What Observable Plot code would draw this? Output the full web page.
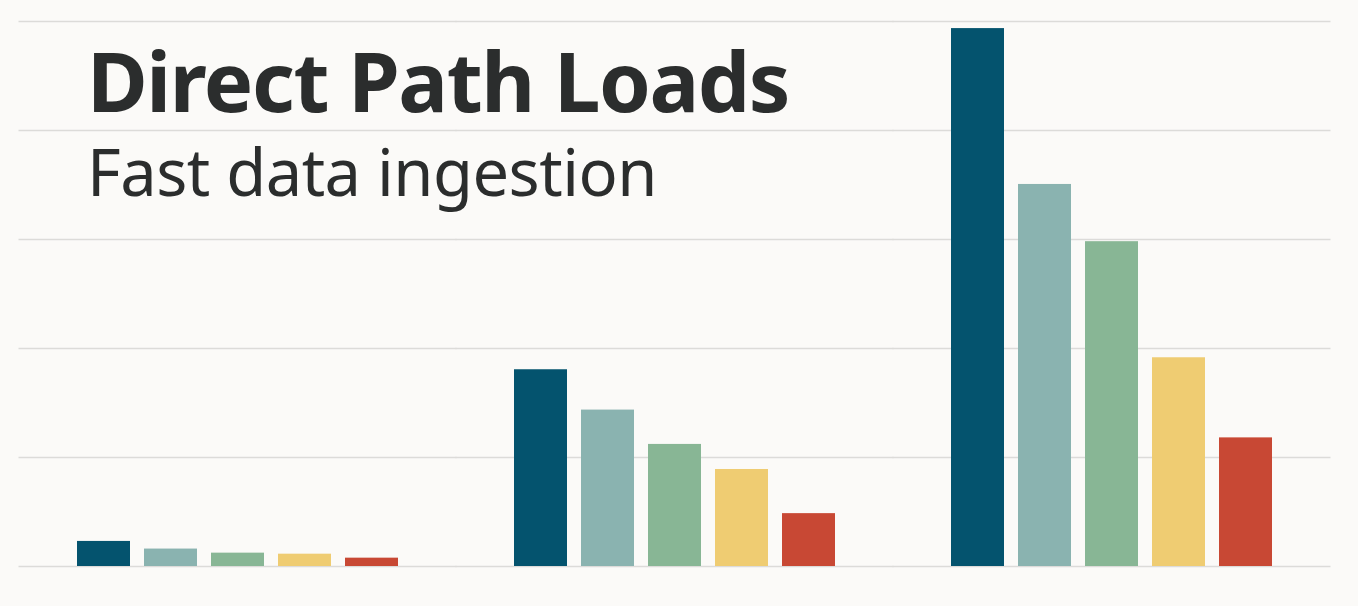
<!DOCTYPE html>
<html>
<head>
<meta charset="utf-8">
<script src="https://cdn.jsdelivr.net/npm/d3@7"></script>
<script src="https://cdn.jsdelivr.net/npm/@observablehq/plot@0.6"></script>
<style>
  html, body { margin: 0; padding: 0; background: #fbfaf8; }
  #wrap { position: relative; width: 1358px; height: 606px; }
  #titles { position: absolute; left: 0; top: 0; pointer-events: none; }
  #titles text { font-family: "Noto Sans", sans-serif; fill: #2b2d2d; }
</style>
</head>
<body>
<div id="wrap">
  <div id="chart"></div>
  <svg id="titles" width="1358" height="230">
    <text id="t1" x="87" y="111.5" font-size="83" font-weight="700" letter-spacing="-1.4">Direct Path Loads</text>
    <text id="t2" x="87" y="196" font-size="65" font-weight="400" letter-spacing="-0.5">Fast data ingestion</text>
  </svg>
</div>
<script>
const groups = ["Small load", "Medium load", "Large load"];
const series = ["Method 1", "Method 2", "Method 3", "Method 4", "Method 5"];
const smallValues  = [4.6, 3.2, 2.45, 2.26, 1.53];
const mediumValues = [36.1, 28.7, 22.4, 17.8, 9.7];
const largeValues  = [98.7, 70.1, 59.6, 38.3, 23.6];
const seriesColors = ["#04536e", "#8ab3b0", "#88b695", "#efcc72", "#c84834"];
const yTicks = [0, 20, 40, 60, 80, 100];

const valuesByGroup = [smallValues, mediumValues, largeValues];
const data = groups.flatMap((g, i) =>
  series.map((s, j) => ({group: g, series: s, value: valuesByGroup[i][j]}))
);

const chart = Plot.plot({
  width: 1358,
  height: 606,
  marginTop: 21,
  marginBottom: 40,
  marginLeft: 18,
  marginRight: 28,
  style: {background: "#fbfaf8"},
  fx: {domain: groups, paddingInner: 0.266, paddingOuter: 0.133, axis: null},
  x: {domain: series, paddingInner: 0.21, paddingOuter: 0, axis: null},
  y: {domain: [0, 100], axis: null},
  color: {domain: series, range: seriesColors},
  marks: [
    Plot.ruleY(yTicks, {stroke: "#dcdbd9", strokeWidth: 1.6, insetLeft: -58.5, insetRight: -58.5}),
    Plot.barY(data, {fx: "group", x: "series", y: "value", fill: "series"})
  ]
});
document.getElementById("chart").appendChild(chart);
</script>
</body>
</html>
